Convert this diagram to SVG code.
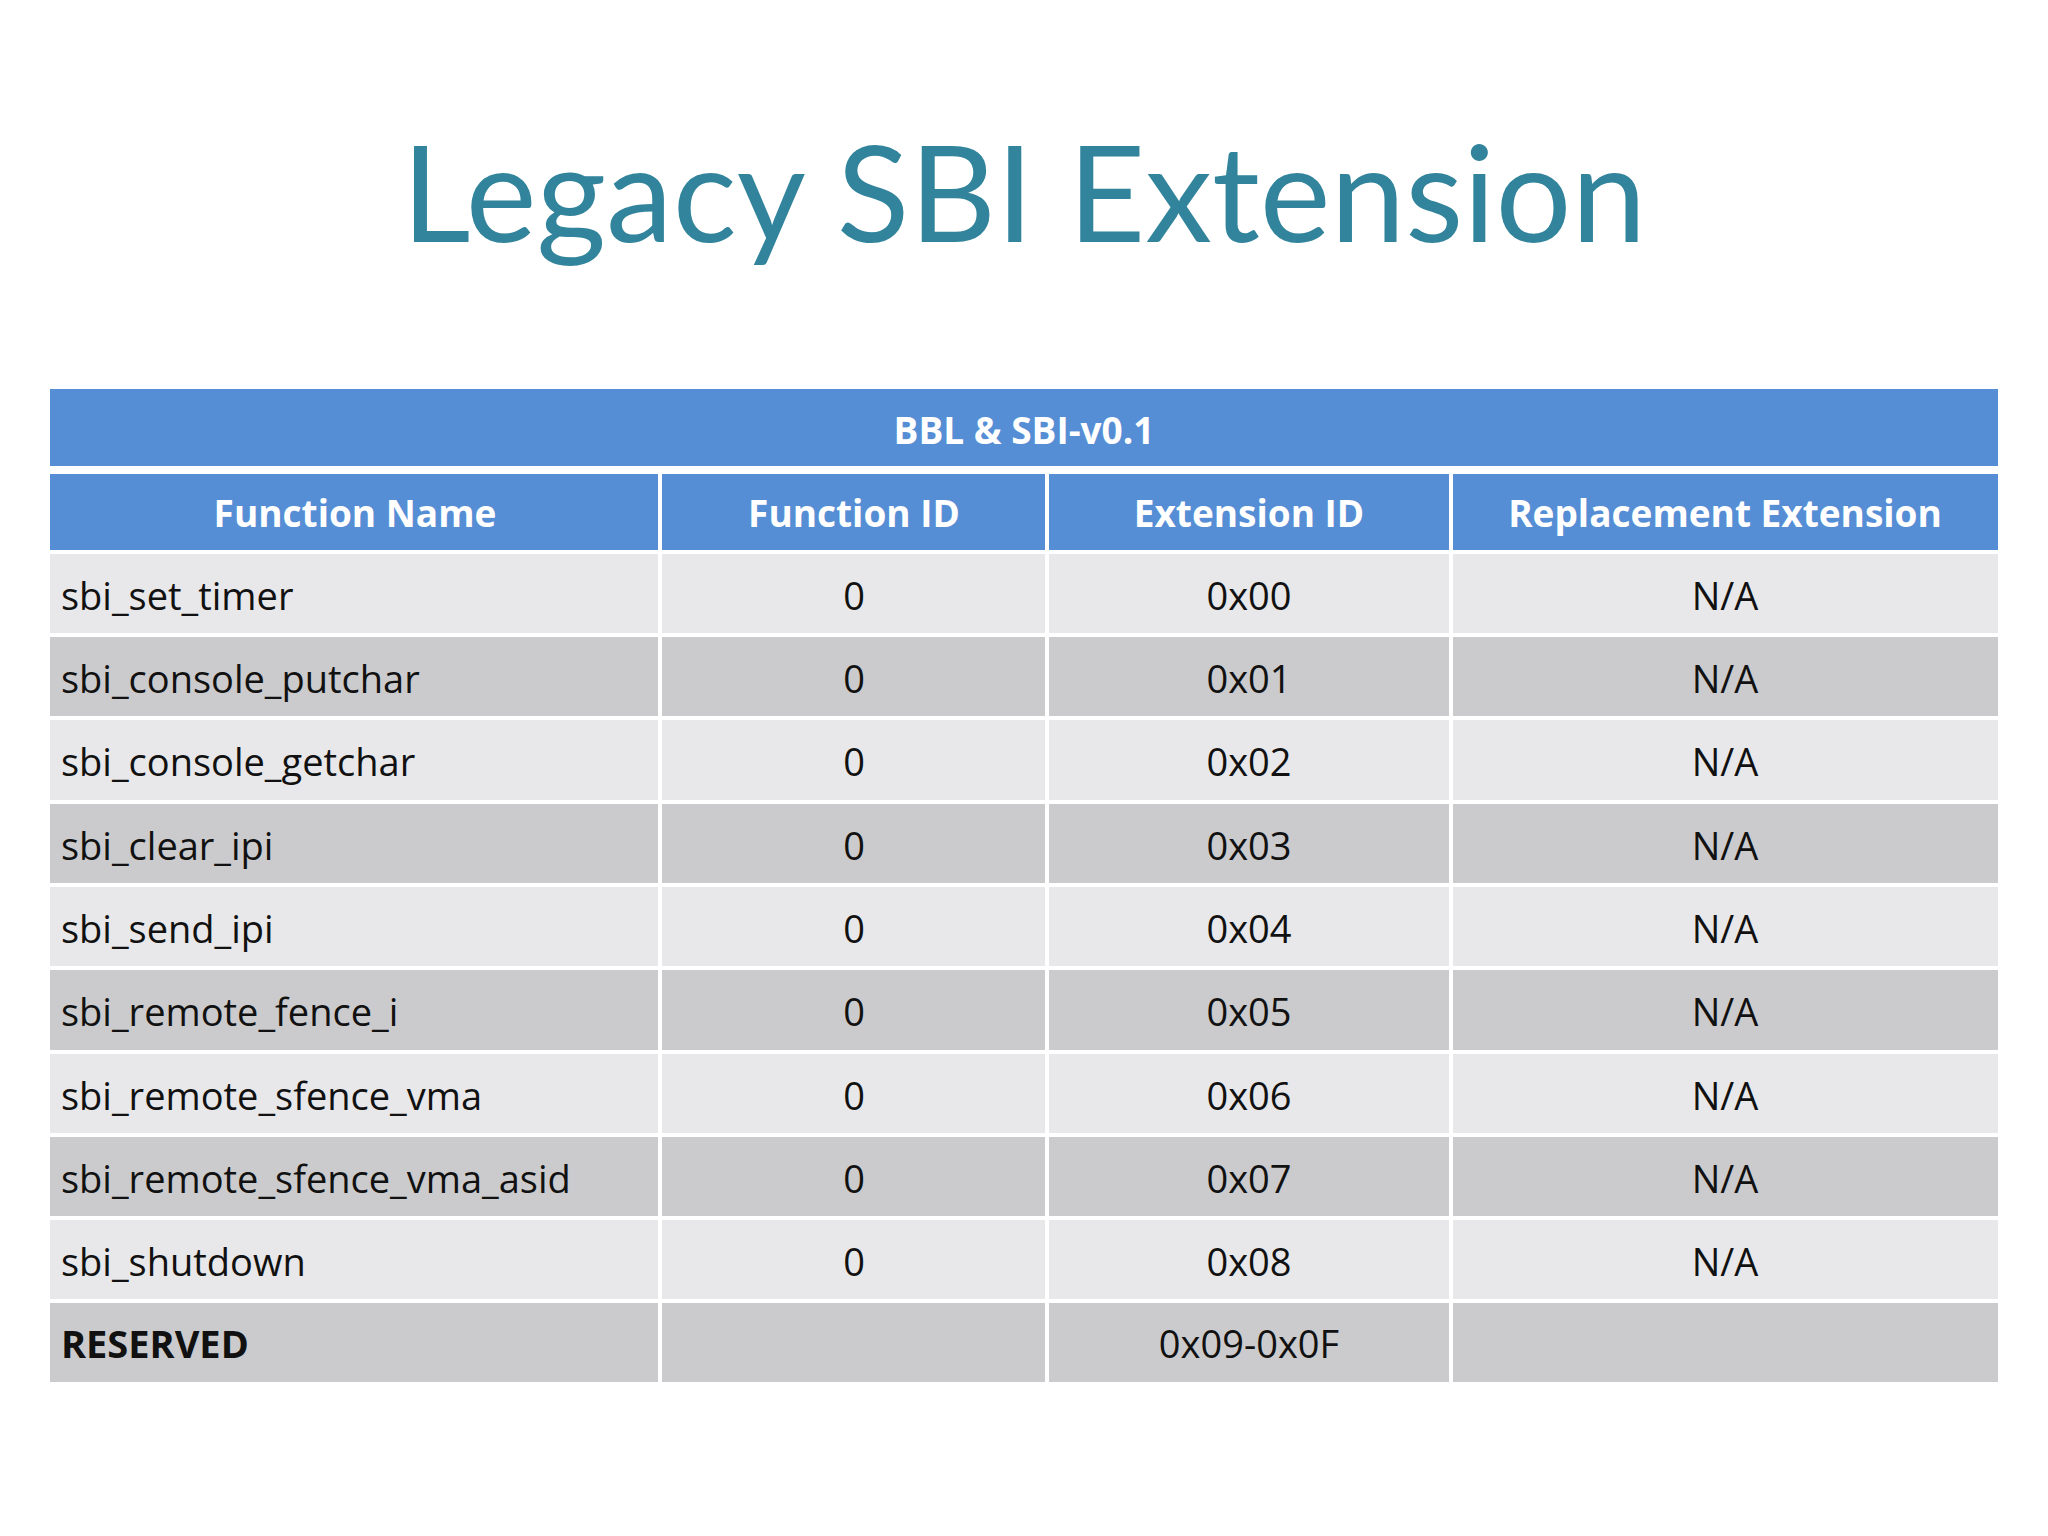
<svg xmlns="http://www.w3.org/2000/svg" width="2048" height="1536" viewBox="0 0 2048 1536">
<style>
text{font-family:"Open Sans","Noto Sans",sans-serif}
.h{fill:#fff;font-weight:bold;font-size:37px;text-anchor:middle}
.t{fill:#111;font-size:38px}
.c{text-anchor:middle}
.a{fill:#E8E8EA}
.b{fill:#CBCBCD}
.hd{fill:#558ED5}
line{stroke:#fff;stroke-width:4}
</style>
<rect width="2048" height="1536" fill="#fff"/>
<text x="1024" y="242" font-size="134" fill="#31849B" text-anchor="middle" style="font-family:Lato,sans-serif">Legacy SBI Extension</text>
<g id="header">
<rect class="hd" x="50" y="389" width="1948" height="77"/>
<text class="h" x="1024" y="444">BBL &amp; SBI-v0.1</text>
<rect class="hd" x="50" y="474" width="1948" height="78"/>
<text class="h" x="355" y="527">Function Name</text>
<text class="h" x="854" y="527">Function ID</text>
<text class="h" x="1249" y="527">Extension ID</text>
<text class="h" x="1725" y="527">Replacement Extension</text>
</g>
<g id="rows">
<rect class="a" x="50" y="552" width="1948" height="83"/>
<rect class="b" x="50" y="635" width="1948" height="83"/>
<rect class="a" x="50" y="718" width="1948" height="84"/>
<rect class="b" x="50" y="802" width="1948" height="83"/>
<rect class="a" x="50" y="885" width="1948" height="83"/>
<rect class="b" x="50" y="968" width="1948" height="84"/>
<rect class="a" x="50" y="1052" width="1948" height="83"/>
<rect class="b" x="50" y="1135" width="1948" height="83"/>
<rect class="a" x="50" y="1218" width="1948" height="83"/>
<rect class="b" x="50" y="1301" width="1948" height="81"/>
</g>
<g id="grid">
<line x1="50" y1="470" x2="1998" y2="470"/>
<line x1="50" y1="552" x2="1998" y2="552"/>
<line x1="50" y1="635" x2="1998" y2="635"/>
<line x1="50" y1="718" x2="1998" y2="718"/>
<line x1="50" y1="802" x2="1998" y2="802"/>
<line x1="50" y1="885" x2="1998" y2="885"/>
<line x1="50" y1="968" x2="1998" y2="968"/>
<line x1="50" y1="1052" x2="1998" y2="1052"/>
<line x1="50" y1="1135" x2="1998" y2="1135"/>
<line x1="50" y1="1218" x2="1998" y2="1218"/>
<line x1="50" y1="1301" x2="1998" y2="1301"/>
<line x1="660" y1="474" x2="660" y2="1382"/>
<line x1="1047" y1="474" x2="1047" y2="1382"/>
<line x1="1451" y1="474" x2="1451" y2="1382"/>
</g>
<g id="cells">
<text class="t" x="61" y="610">sbi_set_timer</text><text class="t c" x="854" y="610">0</text><text class="t c" x="1249" y="610">0x00</text><text class="t c" x="1725" y="610">N/A</text>
<text class="t" x="61" y="693">sbi_console_putchar</text><text class="t c" x="854" y="693">0</text><text class="t c" x="1249" y="693">0x01</text><text class="t c" x="1725" y="693">N/A</text>
<text class="t" x="61" y="776">sbi_console_getchar</text><text class="t c" x="854" y="776">0</text><text class="t c" x="1249" y="776">0x02</text><text class="t c" x="1725" y="776">N/A</text>
<text class="t" x="61" y="860">sbi_clear_ipi</text><text class="t c" x="854" y="860">0</text><text class="t c" x="1249" y="860">0x03</text><text class="t c" x="1725" y="860">N/A</text>
<text class="t" x="61" y="943">sbi_send_ipi</text><text class="t c" x="854" y="943">0</text><text class="t c" x="1249" y="943">0x04</text><text class="t c" x="1725" y="943">N/A</text>
<text class="t" x="61" y="1026">sbi_remote_fence_i</text><text class="t c" x="854" y="1026">0</text><text class="t c" x="1249" y="1026">0x05</text><text class="t c" x="1725" y="1026">N/A</text>
<text class="t" x="61" y="1110">sbi_remote_sfence_vma</text><text class="t c" x="854" y="1110">0</text><text class="t c" x="1249" y="1110">0x06</text><text class="t c" x="1725" y="1110">N/A</text>
<text class="t" x="61" y="1193">sbi_remote_sfence_vma_asid</text><text class="t c" x="854" y="1193">0</text><text class="t c" x="1249" y="1193">0x07</text><text class="t c" x="1725" y="1193">N/A</text>
<text class="t" x="61" y="1276">sbi_shutdown</text><text class="t c" x="854" y="1276">0</text><text class="t c" x="1249" y="1276">0x08</text><text class="t c" x="1725" y="1276">N/A</text>
<text class="t" x="61" y="1358" font-weight="bold">RESERVED</text><text class="t c" x="1249" y="1358">0x09-0x0F</text>
</g>
</svg>
